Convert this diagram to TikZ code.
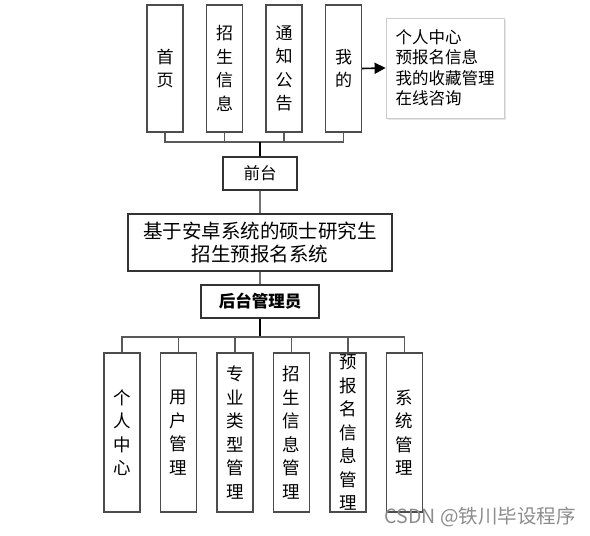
\documentclass[tikz,border=0pt]{standalone}
\usepackage{fontspec}
\setmainfont{Noto Sans CJK SC}
\usetikzlibrary{positioning, arrows.meta, shadows}

\begin{document}
\begin{tikzpicture}[x=1pt, y=1pt,
    every node/.style={inner sep=0pt, align=center},
    topbox/.style={draw=black!70, line width=1.2pt, minimum width=36pt, minimum height=127pt, font=\fontsize{17}{23.5}\selectfont},
    subbox/.style={draw=black!70, line width=1.2pt, minimum width=36pt, minimum height=159pt, font=\fontsize{17.5}{23.5}\selectfont},
    midbox/.style={draw=black!80, line width=1.2pt, fill=white},
    infobox/.style={draw=black!20, line width=0.8pt, fill=white, minimum width=118pt, minimum height=100pt, align=left, font=\fontsize{16.5}{20.5}\selectfont, drop shadow={shadow xshift=2pt, shadow yshift=-2pt, opacity=0.25, fill=black!40}},
    bus/.style={draw=black!65, line width=1.2pt},
    trunk/.style={draw=black, line width=2pt},
    link/.style={draw=black!55, line width=1.5pt},
    arrow/.style={-{Triangle[length=11pt, width=11pt]}, line width=1.6pt}
]
\useasboundingbox (0,0) rectangle (590,536);

% front end
\node[topbox] (shouye) at (165,467.5) {首\\页};
\node[topbox, right=22.3pt of shouye] (zsxx) {招\\生\\信\\息};
\node[topbox, right=22.3pt of zsxx] (tzgg) {通\\知\\公\\告};
\node[topbox, right=22.3pt of tzgg] (wode) {我\\的};
\node[infobox] (info) at (445,468) {个人中心\\预报名信息\\我的收藏管理\\在线咨询};

\node[midbox, minimum width=74pt, minimum height=33pt, font=\fontsize{16.5}{20}\selectfont] (qiantai) at (260,362.5) {前台};
\node[midbox, minimum width=264pt, minimum height=57pt, font=\fontsize{19.5}{23}\selectfont] (system) at (260,293.5) {基于安卓系统的硕士研究生\\招生预报名系统};
\node[midbox, minimum width=118pt, minimum height=33pt, font=\bfseries\fontsize{16.5}{20}\selectfont] (houtai) at (260,234.5) {后台管理员};

% back end
\node[subbox] (grzx) at (122,103.5) {个\\人\\中\\心};
\node[subbox, right=19.3pt of grzx] (yhgl) {用\\户\\管\\理};
\node[subbox, right=19.3pt of yhgl] (zylx) {专\\业\\类\\型\\管\\理};
\node[subbox, right=19.3pt of zylx] (zsgl) {招\\生\\信\\息\\管\\理};
\node[subbox, right=19.3pt of zsgl] (ybmgl) {预\\报\\名\\信\\息\\管\\理};
\node[subbox, right=19.3pt of ybmgl] (xtgl) {系\\统\\管\\理};

\coordinate (topbus) at (260,394);
\coordinate (botbus) at (260,199);

\draw[bus] (shouye.south) |- (topbus);
\draw[bus] (zsxx.south) |- (topbus);
\draw[bus] (tzgg.south) |- (topbus);
\draw[bus] (wode.south) |- (topbus);
\draw[trunk] (topbus) -- (qiantai.north);
\draw[arrow] (wode.east) -- (info.west);

\draw[link] (qiantai.south) -- (system.north);
\draw[link] (system.south) -- (houtai.north);
\draw[trunk] (houtai.south) -- (botbus);

\draw[bus] (grzx.north) |- (botbus);
\draw[bus] (yhgl.north) |- (botbus);
\draw[bus] (zylx.north) |- (botbus);
\draw[bus] (zsgl.north) |- (botbus);
\draw[bus] (ybmgl.north) |- (botbus);
\draw[bus] (xtgl.north) |- (botbus);

\node[anchor=east, text=black!45, font=\fontsize{19.5}{22}\selectfont] (mark) at (576,19) {CSDN @铁川毕设程序};

\end{tikzpicture}
\end{document}
